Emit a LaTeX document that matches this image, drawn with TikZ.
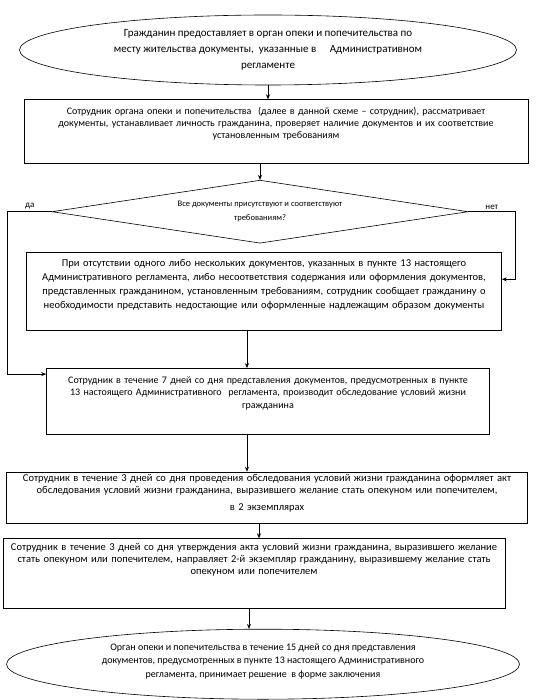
\documentclass[tikz,border=0pt]{standalone}
\usepackage{fontspec}
\setmainfont{Carlito}
\usepackage{tikz}
\usetikzlibrary{arrows.meta, positioning, shapes.geometric}

\begin{document}
\begin{tikzpicture}[
  x=1pt, y=1pt,
  every node/.style={font=\fontsize{10}{12}\selectfont},
  every path/.style={line width=0.6pt},
  stepbox/.style={rectangle, draw, align=center, inner sep=2pt},
  oval/.style={ellipse, draw, align=center, inner sep=0pt},
  check/.style={diamond, draw, align=center, aspect=6.6, inner sep=0pt,
                minimum width=416pt, minimum height=63pt},
  arr/.style={-{Stealth[length=5pt, width=4pt]}},
  branch label/.style={font=\fontsize{9}{10}\selectfont, inner sep=2pt}
]
  \useasboundingbox (0,0) rectangle (543,-700);

  \node[oval, minimum width=497pt, minimum height=70pt,
        font=\fontsize{11}{16}\selectfont] (start) at (268,-50)
    {Гражданин предоставляет в орган опеки и попечительства по\\
     месту жительства документы,\ \ указанные в \quad Административном\\
     регламенте};

  \node[stepbox, below=14pt of start, xshift=8pt, minimum width=504pt,
        minimum height=64pt, text width=490pt] (review)
    {Сотрудник органа опеки и попечительства\ \ (далее в данной схеме – сотрудник), рассматривает\\
     документы, устанавливает личность гражданина, проверяет наличие документов и их соответствие\\
     установленным требованиям\\[6pt]\mbox{}};

  \node[check, below=16pt of review, xshift=-16pt,
        font=\fontsize{8.5}{14}\selectfont] (docsok)
    {Все документы присутствуют и соответствуют\\ требованиям?};

  \node[stepbox, below=9pt of docsok, xshift=4pt, minimum width=475pt,
        minimum height=77pt, text width=466pt,
        font=\fontsize{10.5}{14}\selectfont] (missing)
    {При отсутствии одного либо нескольких документов, указанных в пункте 13 настоящего\\
     Административного регламента, либо несоответствия содержания или оформления документов,\\
     представленных гражданином, установленным требованиям, сотрудник сообщает гражданину о\\
     необходимости представить недостающие или оформленные надлежащим образом документы\\[0pt]\mbox{}};

  \node[stepbox, below=38pt of missing, xshift=4pt, minimum width=443pt,
        minimum height=66pt, text width=432pt,
        font=\fontsize{10}{12.5}\selectfont] (survey)
    {Сотрудник в течение 7 дней со дня представления документов, предусмотренных в пункте\\
     13 настоящего Административного\ \ регламента, производит обследование условий жизни\\
     гражданина\\[6pt]\mbox{}};

  \node[stepbox, below=37pt of survey, xshift=-1pt, minimum width=521pt,
        minimum height=51pt, text width=512pt,
        font=\fontsize{10.5}{12}\selectfont] (act)
    {Сотрудник в течение 3 дней со дня проведения обследования условий жизни гражданина оформляет акт\\
     обследования условий жизни гражданина, выразившего желание стать опекуном или попечителем,\\[5pt]
     в 2 экземплярах\\[-2pt]\mbox{}};

  \node[stepbox, below=15pt of act, xshift=-13pt, minimum width=502pt,
        minimum height=70pt, text width=494pt,
        font=\fontsize{10.5}{12}\selectfont] (copy)
    {Сотрудник в течение 3 дней со дня утверждения акта условий жизни гражданина, выразившего желание\\
     стать опекуном или попечителем, направляет 2-й экземпляр гражданину, выразившему желание стать\\
     опекуном или попечителем\\[18pt]\mbox{}};

  \node[oval, below=20pt of copy, xshift=9pt, minimum width=513pt,
        minimum height=70pt, font=\fontsize{10}{13.5}\selectfont] (finish)
    {Орган опеки и попечительства в течение 15 дней со дня представления\\
     документов, предусмотренных в пункте 13 настоящего Административного\\
     регламента, принимает решение\ \ в форме заключения\\[-6pt]\mbox{}};

  % main line
  \draw[arr] (start.south) -- (start.south |- review.north);
  \draw[arr] (docsok.north |- review.south) -- (docsok.north);
  \draw[arr] ([xshift=-17pt]missing.south) -- ([xshift=-17pt]missing.south |- survey.north);
  \draw[arr] ([xshift=-21pt]survey.south) -- ([xshift=-21pt]survey.south |- act.north);
  \draw[arr] ([xshift=-8pt]act.south) -- ([xshift=-8pt]act.south |- copy.north);
  \draw[arr] ([xshift=-5pt]copy.south) -- ([xshift=-5pt]copy.south |- finish.north);

  % branches
  \draw[arr] (docsok.west) -- node[branch label, above] (yes) {да}
    ++(-44,0) |- ([yshift=-6pt]survey.north west);
  \draw[arr] (docsok.east) -- node[branch label, above] (no) {нет}
    ++(47,0) |- ([yshift=12pt]missing.east);
\end{tikzpicture}
\end{document}
